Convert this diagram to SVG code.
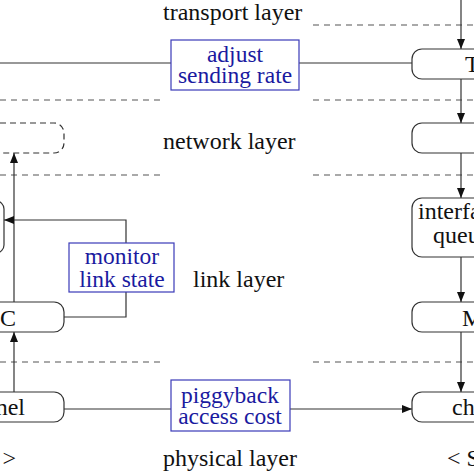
<svg xmlns="http://www.w3.org/2000/svg" width="474" height="474" viewBox="0 0 474 474">
<style>
.lbl{font-family:"Liberation Serif","Times New Roman",serif;font-size:24px;fill:#111}
.blue{font-family:"Liberation Serif","Times New Roman",serif;font-size:23.5px;fill:#1a1aa0;text-anchor:middle}
.node{fill:#fff;stroke:#333;stroke-width:1.2}
.dnode{fill:none;stroke:#333;stroke-width:1.2;stroke-dasharray:6,4}
.box{fill:#fff;stroke:#3a3ab8;stroke-width:1.2}
.dash{stroke:#555;stroke-width:1.2;stroke-dasharray:6,5;fill:none}
.conn{stroke:#333;stroke-width:1.2;fill:none}
</style>
<defs>
<marker id="ah" viewBox="0 0 10 8" refX="10" refY="4" markerWidth="10" markerHeight="8" markerUnits="userSpaceOnUse" orient="auto">
<path d="M0,0 L10,4 L0,8 z" fill="#111"/>
</marker>
</defs>
<rect width="474" height="474" fill="#fff"/>
<g id="layer-lines">
<line class="dash" x1="313" y1="25" x2="474" y2="25"/>
<line class="dash" x1="0" y1="100" x2="164" y2="100"/>
<line class="dash" x1="313" y1="100" x2="474" y2="100"/>
<line class="dash" x1="0" y1="175" x2="164" y2="175"/>
<line class="dash" x1="313" y1="175" x2="474" y2="175"/>
<line class="dash" x1="0" y1="362" x2="164" y2="362"/>
<line class="dash" x1="313" y1="362" x2="474" y2="362"/>
</g>
<g id="layer-labels">
<text class="lbl" x="163" y="20">transport layer</text>
<text class="lbl" x="163" y="149">network layer</text>
<text class="lbl" x="193" y="287">link layer</text>
<text class="lbl" x="163" y="466">physical layer</text>
</g>
<g id="connectors">
<line class="conn" x1="0" y1="63" x2="171" y2="63"/>
<line class="conn" x1="299" y1="63" x2="412" y2="63"/>
<line class="conn" x1="64" y1="409" x2="171" y2="409"/>
<line class="conn" x1="290" y1="409" x2="412" y2="409" marker-end="url(#ah)"/>
<line class="conn" x1="14" y1="392" x2="14" y2="332" marker-end="url(#ah)"/>
<line class="conn" x1="14" y1="302" x2="14" y2="153" marker-end="url(#ah)"/>
<polyline class="conn" points="126,243 126,220 4,220" marker-end="url(#ah)"/>
<polyline class="conn" points="126,292 126,317 64,317"/>
<line class="conn" x1="461" y1="0" x2="461" y2="49" marker-end="url(#ah)"/>
<line class="conn" x1="461" y1="79" x2="461" y2="123" marker-end="url(#ah)"/>
<line class="conn" x1="461" y1="153" x2="461" y2="198" marker-end="url(#ah)"/>
<line class="conn" x1="461" y1="257" x2="461" y2="302" marker-end="url(#ah)"/>
<line class="conn" x1="461" y1="332" x2="461" y2="392" marker-end="url(#ah)"/>
</g>
<g id="adjust-box">
<rect class="box" x="171" y="40" width="128" height="50"/>
<text class="blue" x="235" y="62">adjust</text>
<text class="blue" x="235" y="83">sending rate</text>
</g>
<g id="monitor-box">
<rect class="box" x="69" y="243" width="105" height="49"/>
<text class="blue" x="122" y="264">monitor</text>
<text class="blue" x="122" y="287">link state</text>
</g>
<g id="piggyback-box">
<rect class="box" x="171" y="380" width="119" height="51"/>
<text class="blue" x="230" y="403">piggyback</text>
<text class="blue" x="230" y="424">access cost</text>
</g>
<g id="recv-network">
<rect class="dnode" x="-50" y="123" width="114" height="30" rx="10"/>
</g>
<g id="recv-link-upper">
<rect class="node" x="-60" y="201" width="64" height="52" rx="8"/>
</g>
<g id="recv-mac">
<rect class="node" x="-60" y="302" width="124" height="30" rx="10"/>
<text class="lbl" x="16" y="326" text-anchor="end">C</text>
</g>
<g id="recv-channel">
<rect class="node" x="-60" y="392" width="124" height="30" rx="10"/>
<text class="lbl" x="25" y="415" text-anchor="end">nel</text>
</g>
<g id="recv-label">
<text class="lbl" x="16" y="466" text-anchor="end">&gt;</text>
</g>
<g id="send-transport">
<rect class="node" x="412" y="49" width="124" height="30" rx="10"/>
<text class="lbl" x="465" y="72">T</text>
</g>
<g id="send-network">
<rect class="node" x="412" y="123" width="124" height="30" rx="10"/>
</g>
<g id="send-queue">
<rect class="node" x="412" y="198" width="124" height="59" rx="10"/>
<text class="lbl" x="418" y="219">interfa</text>
<text class="lbl" x="433" y="243">queu</text>
</g>
<g id="send-mac">
<rect class="node" x="412" y="302" width="124" height="30" rx="10"/>
<text class="lbl" x="462" y="326">M</text>
</g>
<g id="send-channel">
<rect class="node" x="412" y="392" width="124" height="30" rx="10"/>
<text class="lbl" x="452" y="415">ch</text>
</g>
<g id="send-label">
<text class="lbl" x="447" y="466">&lt; S</text>
</g>
</svg>
